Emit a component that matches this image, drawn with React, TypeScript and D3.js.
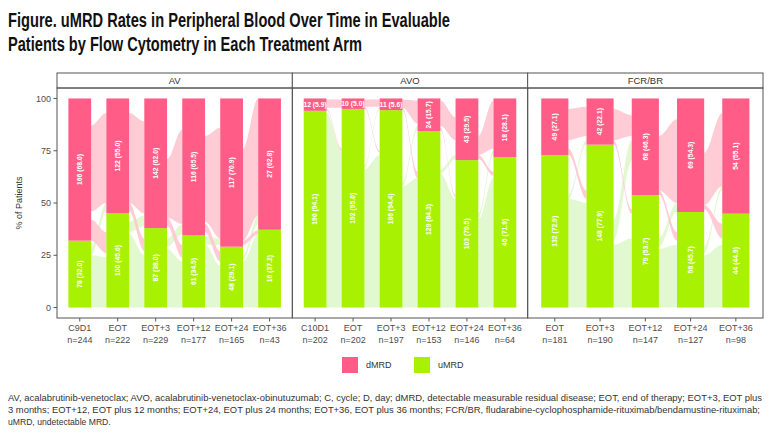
import * as d3 from "d3";

const W = 770;
const H = 439;

const TITLE = [
  "Figure. uMRD Rates in Peripheral Blood Over Time in Evaluable",
  "Patients by Flow Cytometry in Each Treatment Arm",
];

const FOOTNOTE = [
  "AV, acalabrutinib-venetoclax; AVO, acalabrutinib-venetoclax-obinutuzumab; C, cycle; D, day; dMRD, detectable measurable residual disease; EOT, end of therapy; EOT+3, EOT plus",
  "3 months; EOT+12, EOT plus 12 months; EOT+24, EOT plus 24 months; EOT+36, EOT plus 36 months; FCR/BR, fludarabine-cyclophosphamide-rituximab/bendamustine-rituximab;",
  "uMRD, undetectable MRD.",
];

const ARMS = ["AV", "AVO", "FCR/BR"];

// AV
const avTimes = ["C9D1", "EOT", "EOT+3", "EOT+12", "EOT+24", "EOT+36"];
const avN = [244, 222, 229, 177, 165, 43];
const avD = [166, 122, 142, 116, 117, 27];
const avDPct = [68.0, 55.0, 62.0, 65.5, 70.9, 62.8];
const avU = [78, 100, 87, 61, 48, 16];
const avUPct = [32.0, 45.0, 38.0, 34.5, 29.1, 37.2];

// AVO
const avoTimes = ["C10D1", "EOT", "EOT+3", "EOT+12", "EOT+24", "EOT+36"];
const avoN = [202, 202, 197, 153, 146, 64];
const avoD = [12, 10, 11, 24, 43, 18];
const avoDPct = [5.9, 5.0, 5.6, 15.7, 29.5, 28.1];
const avoU = [190, 192, 186, 129, 103, 46];
const avoUPct = [94.1, 95.0, 94.4, 84.3, 70.5, 71.9];

// FCR/BR
const fcrTimes = ["EOT", "EOT+3", "EOT+12", "EOT+24", "EOT+36"];
const fcrN = [181, 190, 147, 127, 98];
const fcrD = [49, 42, 68, 69, 54];
const fcrDPct = [27.1, 22.1, 46.3, 54.3, 55.1];
const fcrU = [132, 148, 79, 58, 44];
const fcrUPct = [72.9, 77.9, 53.7, 45.7, 44.9];

// flows between consecutive timepoints: [from, to, leftLow, leftHigh, rightLow, rightHigh] (% of patients)
type Flow = [string, string, number, number, number, number];
const avFlows: Flow[][] = [
  [["u", "u", 0, 25, 0, 24], ["u", "d", 25, 29, 46, 50], ["d", "u", 32, 42, 26, 36], ["d", "d", 46, 87, 50, 93]],
  [["u", "u", 0, 35, 0, 25], ["u", "d", 36, 41, 39, 44], ["d", "u", 46, 50, 27, 33], ["d", "d", 50, 93, 45, 89]],
  [["u", "u", 0, 28, 0, 22], ["u", "d", 29, 33, 35, 40], ["d", "u", 39, 43, 24, 30], ["d", "d", 43, 71, 40, 85]],
  [["u", "u", 0, 30, 0, 20], ["u", "d", 30, 34, 30, 33], ["d", "u", 36, 40, 22, 27], ["d", "d", 41, 82, 33, 86]],
  [["u", "u", 0, 22, 0, 35], ["u", "d", 23, 25, 40, 44], ["d", "u", 30, 32, 35, 37], ["d", "d", 32, 76, 44, 100]],
];
const avoFlows: Flow[][] = [
  [["u", "u", 0, 93, 0, 75], ["d", "u", 94.2, 95, 75, 76], ["d", "d", 95.5, 99.5, 95.5, 99.5]],
  [["u", "u", 0, 66, 0, 73], ["u", "d", 67, 68, 95, 96], ["d", "u", 95.2, 96, 74, 75], ["d", "d", 96, 99.5, 96, 99.5]],
  [["u", "u", 0, 58, 0, 62], ["u", "d", 58, 60, 85, 87], ["d", "u", 94.6, 95.5, 62, 65], ["d", "d", 95.5, 99.5, 88, 99]],
  [["u", "u", 0, 64, 0, 52], ["u", "d", 64, 66, 71, 73], ["d", "u", 85, 86, 53, 54], ["d", "d", 87, 99, 80, 91]],
  [["u", "u", 0, 42, 0, 62], ["u", "d", 43, 45, 73, 75], ["d", "u", 71, 73, 63, 65], ["d", "d", 73, 82, 76, 99]],
];
const fcrFlows: Flow[][] = [
  [["u", "u", 0, 52, 0, 50], ["u", "d", 52, 54, 78, 80], ["d", "u", 73, 76, 52, 56], ["d", "d", 80, 95, 82, 96]],
  [["u", "u", 0, 30, 0, 33], ["u", "d", 32, 42, 70, 80], ["d", "u", 78, 80, 45, 47], ["d", "d", 80, 95, 82, 92]],
  [["u", "u", 0, 28, 0, 30], ["u", "d", 29, 33, 46, 50], ["d", "u", 54, 56, 32, 36], ["d", "d", 56, 82, 50, 90]],
  [["u", "u", 0, 25, 0, 30], ["u", "d", 26, 29, 56, 58], ["d", "u", 47, 49, 33, 40], ["d", "d", 49, 74, 58, 93]],
];

const yTicks = [0, 25, 50, 75, 100];

const COL = { d: "#ff5d88", u: "#a9f103" };
const FLOW_COL: Record<string, string> = { d: "#ffc3cf", u: "#dcf7c9" };
const FONT = "'Liberation Sans', Arial, sans-serif";

const panels = [
  { arm: ARMS[0], times: avTimes, n: avN, d: avD, dPct: avDPct, u: avU, uPct: avUPct, flows: avFlows },
  { arm: ARMS[1], times: avoTimes, n: avoN, d: avoD, dPct: avoDPct, u: avoU, uPct: avoUPct, flows: avoFlows },
  { arm: ARMS[2], times: fcrTimes, n: fcrN, d: fcrD, dPct: fcrDPct, u: fcrU, uPct: fcrUPct, flows: fcrFlows },
];

const PLOT_L = 57;
const PLOT_R = 763;
const STRIP_T = 73;
const PANEL_T = 88;
const PANEL_B = 318;

const y = d3.scaleLinear().domain([-5, 105]).range([PANEL_B, PANEL_T]);
const panelX = d3.scaleBand<number>().domain([0, 1, 2]).range([PLOT_L, PLOT_R]).padding(0);

function flowPath(x0: number, x1: number, f: Flow) {
  const k = (x1 - x0) * 0.35;
  const [, , l0, l1, r0, r1] = f;
  return `M${x0},${y(l1)}C${x0 + k},${y(l1)} ${x1 - k},${y(r1)} ${x1},${y(r1)}` +
    `L${x1},${y(r0)}C${x1 - k},${y(r0)} ${x0 + k},${y(l0)} ${x0},${y(l0)}Z`;
}

function SegLabel({ cx, y0, y1, text }: { cx: number; y0: number; y1: number; text: string }) {
  const cy = (y(y0) + y(y1)) / 2;
  const horizontal = y1 - y0 < 10;
  return (
    <text
      x={cx}
      y={cy}
      dy="0.35em"
      textAnchor="middle"
      fontSize={6.8}
      fontWeight="bold"
      fill="#fff"
      fontFamily={FONT}
      transform={horizontal ? undefined : `rotate(-90 ${cx} ${cy})`}
    >
      {text}
    </text>
  );
}

function Panel({ idx }: { idx: number }) {
  const p = panels[idx];
  const px0 = panelX(idx) ?? 0;
  const pw = panelX.bandwidth();
  const x = d3.scalePoint<string>().domain(p.times).range([px0, px0 + pw]).padding(0.6);
  const bw = x.step() * 0.6;
  return (
    <g>
      <rect x={px0} y={STRIP_T} width={pw} height={PANEL_T - STRIP_T} fill="#fff" stroke="#555" strokeWidth={1} />
      <text x={px0 + pw / 2} y={(STRIP_T + PANEL_T) / 2} dy="0.35em" textAnchor="middle" fontSize={9.5} fill="#333" fontFamily={FONT}>
        {p.arm}
      </text>
      {p.flows.map((fs, i) =>
        fs.map((f, j) => (
          <path
            key={`${i}-${j}`}
            d={flowPath((x(p.times[i]) ?? 0) + bw / 2, (x(p.times[i + 1]) ?? 0) - bw / 2, f)}
            fill={FLOW_COL[f[0]]}
            fillOpacity={0.85}
          />
        ))
      )}
      {p.times.map((t, i) => {
        const cx = x(t) ?? 0;
        const uTop = p.uPct[i];
        return (
          <g key={t}>
            <rect x={cx - bw / 2} y={y(uTop)} width={bw} height={y(0) - y(uTop)} fill={COL.u} />
            <rect x={cx - bw / 2} y={y(100)} width={bw} height={y(uTop) - y(100)} fill={COL.d} />
            <SegLabel cx={cx} y0={0} y1={uTop} text={`${p.u[i]} (${p.uPct[i].toFixed(1)})`} />
            <SegLabel cx={cx} y0={uTop} y1={100} text={`${p.d[i]} (${p.dPct[i].toFixed(1)})`} />
            <line x1={cx} x2={cx} y1={PANEL_B} y2={PANEL_B + 3.5} stroke="#555" />
            <text x={cx} y={331} textAnchor="middle" fontSize={9} fill="#4d4d4d" fontFamily={FONT}>{t}</text>
            <text x={cx} y={343} textAnchor="middle" fontSize={9} fill="#4d4d4d" fontFamily={FONT}>{`n=${p.n[i]}`}</text>
          </g>
        );
      })}
      <rect x={px0} y={PANEL_T} width={pw} height={PANEL_B - PANEL_T} fill="none" stroke="#555" strokeWidth={1} />
    </g>
  );
}

export default function App() {
  return (
    <svg
      width={W}
      height={H}
      viewBox={`0 0 ${W} ${H}`}
      style={{ position: "absolute", left: 0, top: 0, background: "#fff" }}
    >
      <rect width={W} height={H} fill="#fff" />
      {TITLE.map((t, i) => (
        <text
          key={t}
          x={8}
          y={27 + i * 24}
          fontSize={20}
          fontWeight="bold"
          fill="#111"
          fontFamily={FONT}
          textLength={i === 0 ? 442 : 354}
          lengthAdjust="spacingAndGlyphs"
        >
          {t}
        </text>
      ))}
      <text
        transform={`translate(22,${(PANEL_T + PANEL_B) / 2}) rotate(-90)`}
        textAnchor="middle"
        fontSize={9}
        fill="#333"
        fontFamily={FONT}
      >
        % of Patients
      </text>
      {yTicks.map((t) => (
        <g key={t}>
          <line x1={PLOT_L - 3.5} x2={PLOT_L} y1={y(t)} y2={y(t)} stroke="#555" />
          <text x={PLOT_L - 6} y={y(t)} dy="0.35em" textAnchor="end" fontSize={9} fill="#4d4d4d" fontFamily={FONT}>
            {t}
          </text>
        </g>
      ))}
      {panels.map((_, i) => (
        <Panel key={i} idx={i} />
      ))}
      <rect x={342} y={357} width={16} height={16} fill={COL.d} />
      <text x={366} y={365} dy="0.35em" fontSize={9} fill="#333" fontFamily={FONT}>dMRD</text>
      <rect x={414} y={357} width={16} height={16} fill={COL.u} />
      <text x={438} y={365} dy="0.35em" fontSize={9} fill="#333" fontFamily={FONT}>uMRD</text>
      {FOOTNOTE.map((t, i) => (
        <text
          key={i}
          x={8}
          y={401 + i * 12}
          fontSize={8.6}
          fill="#333"
          fontFamily={FONT}
          textLength={i === 0 ? 754 : i === 1 ? 752 : undefined}
          lengthAdjust={i < 2 ? "spacingAndGlyphs" : undefined}
        >
          {t}
        </text>
      ))}
    </svg>
  );
}
